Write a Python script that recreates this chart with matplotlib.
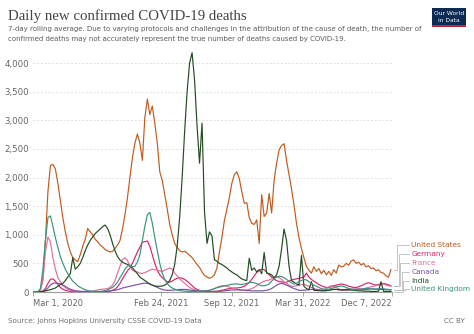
import matplotlib
matplotlib.use("Agg")
import matplotlib.pyplot as plt
from matplotlib.patches import Rectangle
import pandas as pd

# Weekly samples of the 7-day rolling average, starting 1 Mar 2020
start_date = "2020-03-01"

united_states = [
    0, 1, 8, 50, 250, 900, 1750, 2210, 2230, 2150,
    1900, 1600, 1300, 1050, 850, 700, 600, 560, 530, 650,
    800, 920, 1110, 1050, 1000, 920, 880, 820, 790, 740,
    720, 700, 710, 760, 820, 900, 1100, 1350, 1650, 2000,
    2350, 2600, 2760, 2600, 2300, 3050, 3370, 3100, 3250, 2950,
    2600, 2100, 1950, 1700, 1450, 1180, 1000, 850, 780, 720,
    700, 710, 680, 640, 600, 540, 480, 430, 350, 290,
    260, 240, 260, 300, 420, 700, 950, 1250, 1450, 1650,
    1900, 2050, 2100, 1980, 1750, 1550, 1560, 1300, 1200, 1180,
    1260, 850, 1700, 1320, 1380, 1720, 1380, 1950, 2250, 2480,
    2560, 2590, 2300, 2050, 1800, 1520, 1200, 950, 760, 600,
    450, 380, 330, 440, 360, 410, 320, 380, 300, 360,
    290, 390, 330, 470, 440, 450, 500, 470, 540, 560,
    500, 520, 470, 500, 440, 460, 410, 420, 370, 390,
    340, 330, 280, 260, 390,
]

germany = [
    0, 0, 0, 5, 20, 60, 150, 220, 230, 190,
    130, 80, 50, 30, 20, 12, 10, 8, 6, 5,
    5, 5, 5, 5, 5, 5, 5, 5, 8, 10,
    12, 15, 30, 50, 90, 150, 230, 300, 370, 420,
    500, 600, 700, 780, 870, 880, 890, 800, 650, 500,
    380, 300, 250, 210, 180, 170, 190, 220, 240, 250,
    240, 220, 190, 150, 110, 70, 45, 30, 20, 15,
    10, 10, 10, 12, 15, 20, 30, 40, 50, 60,
    65, 70, 70, 75, 85, 100, 130, 170, 220, 280,
    340, 380, 400, 390, 340, 300, 260, 220, 200, 180,
    180, 160, 170, 190, 210, 220, 230, 240, 250, 260,
    330, 260, 220, 190, 160, 130, 110, 90, 80, 80,
    90, 110, 120, 130, 140, 130, 120, 100, 90, 80,
    80, 90, 110, 130, 150, 160, 150, 130, 120, 130,
    140, 150, 140, 125, 110,
]

france = [
    0, 0, 1, 30, 200, 700, 960, 880, 600, 400,
    250, 180, 110, 80, 50, 30, 20, 15, 12, 12,
    12, 12, 12, 15, 20, 25, 35, 45, 50, 55,
    60, 80, 120, 200, 330, 450, 560, 600, 550, 450,
    380, 360, 350, 330, 320, 340, 360, 380, 400, 390,
    380, 370, 360, 380, 400, 420, 400, 330, 280, 230,
    190, 150, 110, 80, 55, 40, 30, 25, 20, 20,
    20, 25, 40, 60, 80, 100, 110, 110, 100, 85,
    70, 55, 40, 35, 30, 30, 35, 45, 60, 80,
    110, 140, 170, 190, 200, 210, 230, 250, 270, 250,
    220, 180, 150, 120, 100, 100, 110, 120, 130, 130,
    120, 100, 80, 60, 45, 40, 35, 40, 60, 90,
    110, 100, 80, 55, 40, 30, 25, 30, 35, 45,
    55, 60, 55, 60, 70, 80, 90, 100, 110, 120,
    130, 140, 120, 110, 100,
]

canada = [
    0, 0, 0, 2, 10, 30, 70, 120, 150, 160,
    150, 140, 120, 100, 70, 50, 35, 20, 15, 10,
    8, 6, 5, 5, 5, 5, 5, 6, 8, 10,
    15, 20, 25, 30, 40, 55, 70, 80, 90, 100,
    110, 120, 130, 140, 150, 155, 150, 140, 120, 100,
    80, 60, 45, 35, 30, 30, 30, 35, 40, 45,
    45, 45, 40, 35, 30, 25, 20, 15, 12, 10,
    8, 5, 5, 5, 8, 10, 15, 20, 25, 30,
    35, 35, 40, 40, 35, 30, 25, 25, 20, 20,
    20, 20, 20, 25, 30, 40, 60, 90, 120, 140,
    150, 140, 120, 100, 80, 60, 45, 30, 30, 30,
    35, 40, 45, 45, 40, 35, 30, 25, 25, 30,
    40, 45, 45, 40, 35, 35, 40, 45, 50, 50,
    45, 45, 40, 40, 45, 50, 55, 55, 50, 50,
    45, 45, 40, 40, 35,
]

india = [
    0, 0, 1, 3, 8, 20, 30, 40, 55, 70,
    100, 130, 150, 200, 260, 320, 600, 400, 440, 500,
    600, 720, 820, 900, 960, 1020, 1060, 1100, 1140, 1170,
    1110, 1000, 850, 720, 620, 560, 520, 500, 480, 460,
    420, 370, 320, 260, 230, 200, 170, 140, 120, 105,
    100, 100, 105, 120, 150, 200, 300, 480, 800, 1300,
    2000, 2800, 3500, 4000, 4180, 3700, 2900, 2250, 2950, 1400,
    850, 1050, 980, 560, 540, 500, 480, 450, 420, 380,
    350, 320, 300, 260, 230, 210, 200, 590, 380, 420,
    350, 390, 320, 690, 330, 320, 300, 250, 300, 450,
    750, 1100, 900, 450, 200, 170, 140, 120, 640, 100,
    60, 40, 180, 30, 25, 25, 20, 20, 25, 30,
    40, 45, 45, 40, 35, 40, 45, 40, 35, 30,
    25, 20, 20, 15, 15, 15, 10, 10, 10, 15,
    180, 12, 10, 10, 8,
]

united_kingdom = [
    0, 1, 5, 60, 400, 900, 1300, 1330, 1150, 950,
    780, 620, 500, 400, 320, 250, 190, 150, 110, 80,
    60, 40, 25, 15, 10, 10, 10, 12, 15, 25,
    40, 60, 80, 120, 170, 250, 320, 400, 450, 470,
    440, 450, 520, 650, 900, 1150, 1350, 1390, 1200, 950,
    720, 500, 330, 220, 150, 100, 70, 50, 35, 25,
    20, 15, 12, 10, 10, 10, 10, 12, 15, 20,
    25, 30, 45, 60, 75, 85, 95, 105, 115, 125,
    135, 140, 140, 135, 130, 140, 150, 165, 170, 160,
    145, 125, 110, 110, 120, 140, 190, 230, 260, 275,
    270, 250, 220, 190, 160, 140, 150, 180, 200, 220,
    210, 180, 150, 120, 100, 80, 60, 50, 45, 50,
    60, 75, 90, 100, 105, 95, 80, 60, 50, 40,
    40, 45, 50, 55, 60, 60, 55, 50, 50, 55,
    60, 55, 50, 45, 40,
]

countries = ["United States", "Germany", "France", "Canada", "India", "United Kingdom"]
series = [united_states, germany, france, canada, india, united_kingdom]
colors = ["#c25a1c", "#d6246e", "#e0709a", "#7a52a8", "#234b20", "#3a947a"]
label_values = [816, 659, 512, 355, 198, 52]   # vertical placement of the end labels

x_ticks = ["2020-03-01", "2021-02-24", "2021-09-12", "2022-03-31", "2022-12-07"]
x_tick_labels = ["Mar 1, 2020", "Feb 24, 2021", "Sep 12, 2021", "Mar 31, 2022", "Dec 7, 2022"]
y_ticks = [0, 500, 1000, 1500, 2000, 2500, 3000, 3500, 4000]

W, H = 474, 334
fig = plt.figure(figsize=(W / 100, H / 100), dpi=100)
fig.patch.set_facecolor("white")

ax_left, ax_right, ax_bottom, ax_top = 33, 392, 292, 51.6
ax = fig.add_axes([ax_left / W, 1 - ax_bottom / H, (ax_right - ax_left) / W, (ax_bottom - ax_top) / H])

dates = pd.date_range(start_date, periods=len(united_states), freq="7D")
x_start = pd.Timestamp(x_ticks[0])
x_end = pd.Timestamp(x_ticks[-1])

for name, vals, col in zip(countries, series, colors):
    ax.plot(dates, vals, color=col, lw=0.85, solid_joinstyle="round", zorder=3)

ax.set_xlim(x_start, x_end)
ax.set_ylim(0, 4200)

ax.set_yticks(y_ticks)
ax.set_yticklabels([f"{v:,}" for v in y_ticks])
ax.set_xticks([pd.Timestamp(t) for t in x_ticks])
ax.set_xticklabels(x_tick_labels)

for s in ["top", "right", "left"]:
    ax.spines[s].set_visible(False)
ax.spines["bottom"].set_color("#9a9a9a")
ax.spines["bottom"].set_linewidth(0.8)

ax.tick_params(axis="y", length=0, pad=3, labelsize=6.2, labelcolor="#666666")
ax.tick_params(axis="x", length=3, width=0.6, color="#9a9a9a", pad=2, labelsize=6.0, labelcolor="#666666")
xl = ax.get_xticklabels()
xl[0].set_ha("left")
xl[-1].set_ha("right")

for v in y_ticks[1:]:
    ax.axhline(v, color="#dddddd", lw=0.6, ls=(0, (2.5, 2)), zorder=1)

# End labels with elbow connectors
px_days = (x_end - x_start).days / (ax_right - ax_left)
elbows = [5, 7, 8.5, 10, 11.5, 13]
for vals, col, name, ly, el in zip(series, colors, countries, label_values, elbows):
    x0 = dates[-1] + pd.Timedelta(days=3 * px_days)
    xe = x_end + pd.Timedelta(days=el * px_days)
    x1 = x_end + pd.Timedelta(days=17 * px_days)
    ax.plot([x0, xe, xe, x1], [vals[-1], vals[-1], ly, ly], color="#bbbbbb",
            lw=0.6, clip_on=False, zorder=2)
    ax.text(x_end + pd.Timedelta(days=19.5 * px_days), ly, name, color=col,
            fontsize=5.3, va="center", ha="left", clip_on=False)

# Header
fig.text(8 / W, 1 - 20 / H, "Daily new confirmed COVID-19 deaths",
         family="Liberation Serif", fontsize=10.7, color="#444444", va="baseline", ha="left")
fig.text(8 / W, 1 - 31.5 / H,
         "7-day rolling average. Due to varying protocols and challenges in the attribution of the cause of death, the number of",
         fontsize=5.0, color="#5b5b5b", va="baseline", ha="left")
fig.text(8 / W, 1 - 41.5 / H,
         "confirmed deaths may not accurately represent the true number of deaths caused by COVID-19.",
         fontsize=5.0, color="#5b5b5b", va="baseline", ha="left")

# Logo box
fig.patches.append(Rectangle((432 / W, 1 - 27 / H), 34 / W, 19 / H, transform=fig.transFigure,
                             facecolor="#0d2a52", edgecolor="none"))
fig.patches.append(Rectangle((432 / W, 1 - 27 / H), 34 / W, 1.6 / H, transform=fig.transFigure,
                             facecolor="#c4203a", edgecolor="none"))
fig.text(449 / W, 1 - 13.5 / H, "Our World", color="white", fontsize=4.3, ha="center", va="center")
fig.text(449 / W, 1 - 20.5 / H, "in Data", color="white", fontsize=4.3, ha="center", va="center")

# Footer
fig.text(8 / W, 1 - 323 / H, "Source: Johns Hopkins University CSSE COVID-19 Data",
         fontsize=5.1, color="#6e6e6e", va="baseline", ha="left")
fig.text(465 / W, 1 - 323 / H, "CC BY", fontsize=5.1, color="#6e6e6e", va="baseline", ha="right")

fig.savefig("out.png", dpi=100, facecolor="white")
